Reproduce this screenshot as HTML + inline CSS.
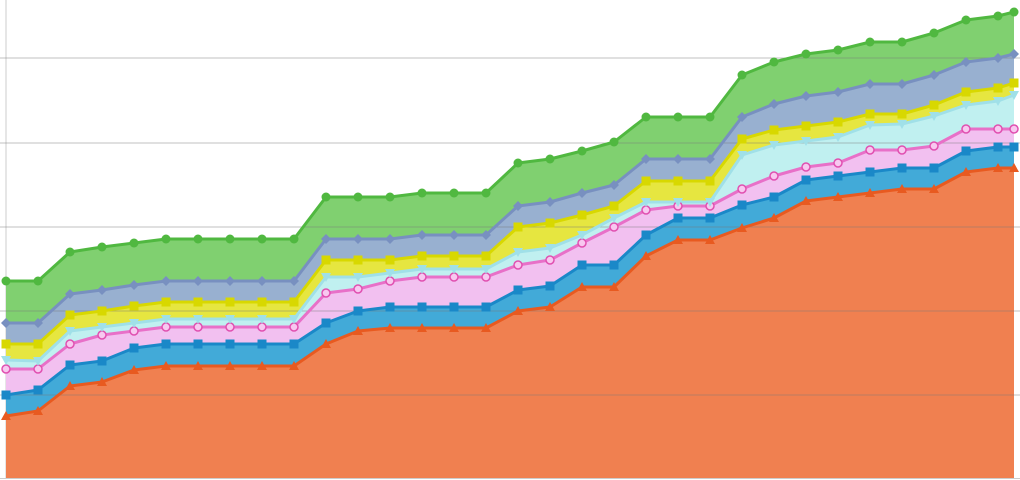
<!DOCTYPE html>
<html><head><meta charset="utf-8"><style>html,body{margin:0;padding:0;background:#fff;width:1020px;height:480px;overflow:hidden}</style></head>
<body>
<svg id="c" width="1020" height="480" xmlns="http://www.w3.org/2000/svg"></svg>
<script>
var xs=[];for(var i=0;i<32;i++)xs.push(6+i*32);xs.push(1014);
var S=[
{f:"#f08050",l:"#e85a20",m:"tri",y:[416,411,386,382,370,366,366,366,366,366,344,331,328,328,328,328,311,307,287,287,256,240,240,228,218,201,197,193,189,189,172,168,168]},
{f:"#42aad8",l:"#1a88c8",m:"sq",y:[395,390,365,361,348,344,344,344,344,344,323,311,307,307,307,307,290,286,265,265,235,218,218,205,197,180,176,172,168,168,151,147,147]},
{f:"#f2c0f0",l:"#e870c8",m:"ci",y:[369,369,344,335,331,327,327,327,327,327,293,289,281,277,277,277,265,260,243,227,210,206,206,189,176,167,163,150,150,146,129,129,129]},
{f:"#c0f0f0",l:"#a0e0e8",m:"dt",y:[360,361,331,327,323,319,319,319,319,319,277,277,273,269,269,269,252,248,235,218,202,202,202,155,145,141,137,125,124,116,105,101,95]},
{f:"#e6e640",l:"#d8d800",m:"sq",y:[344,344,315,311,306,302,302,302,302,302,260,260,260,256,256,256,227,223,215,206,181,181,181,139,130,126,122,114,114,105,92,88,83]},
{f:"#98b0d0",l:"#7890c0",m:"di",y:[323,323,294,290,285,281,281,281,281,281,239,239,239,235,235,235,206,202,193,185,159,159,159,117,104,96,92,84,84,75,62,58,54]},
{f:"#80d070",l:"#50b840",m:"ci",y:[281,281,252,247,243,239,239,239,239,239,197,197,197,193,193,193,163,159,151,142,117,117,117,75,62,54,50,42,42,33,20,16,12]}];
var h='';
h+='<line x1="6" y1="0" x2="6" y2="478" stroke="#ccc"/>';
var fills='',lines='',marks='';
for(var k=S.length-1;k>=0;k--){var s=S[k];var p='M'+xs[0]+',478';for(var i=0;i<xs.length;i++)p+=' L'+xs[i]+','+s.y[i];p+=' L'+xs[xs.length-1]+',478Z';fills+='<path d="'+p+'" fill="'+s.f+'"/>';}
[58,143,227,311,395].forEach(function(y){fills+='<line x1="0" y1="'+y+'" x2="1020" y2="'+y+'" stroke="rgba(120,120,120,0.45)" stroke-width="1"/>';});
fills+='<line x1="0" y1="478.5" x2="1020" y2="478.5" stroke="#ccc"/>';
S.forEach(function(s){var p='';for(var i=0;i<xs.length;i++)p+=(i?' L':'M')+xs[i]+','+s.y[i];lines+='<path d="'+p+'" fill="none" stroke="'+s.l+'" stroke-width="3" stroke-linejoin="round"/>';
for(var i=0;i<xs.length;i++){var x=xs[i],y=s.y[i];
if(s.m=="tri")marks+='<polygon points="'+x+','+(y-5)+' '+(x+5)+','+(y+4)+' '+(x-5)+','+(y+4)+'" fill="'+s.l+'"/>';
else if(s.m=="sq")marks+='<rect x="'+(x-4.5)+'" y="'+(y-4.5)+'" width="9" height="9" fill="'+s.l+'"/>';
else if(s.m=="dt")marks+='<polygon points="'+(x-5)+','+(y-4)+' '+(x+5)+','+(y-4)+' '+x+','+(y+5)+'" fill="'+s.l+'"/>';
else if(s.m=="di")marks+='<polygon points="'+x+','+(y-5)+' '+(x+5)+','+y+' '+x+','+(y+5)+' '+(x-5)+','+y+'" fill="'+s.l+'"/>';
else if(s.f=="#f2c0f0")marks+='<circle cx="'+x+'" cy="'+y+'" r="4" fill="#f8c8f0" stroke="#e050b0" stroke-width="1.5"/>';
else marks+='<circle cx="'+x+'" cy="'+y+'" r="4.5" fill="'+s.l+'"/>';}});
document.getElementById('c').innerHTML=h+fills+lines+marks;
</script>
</body></html>
